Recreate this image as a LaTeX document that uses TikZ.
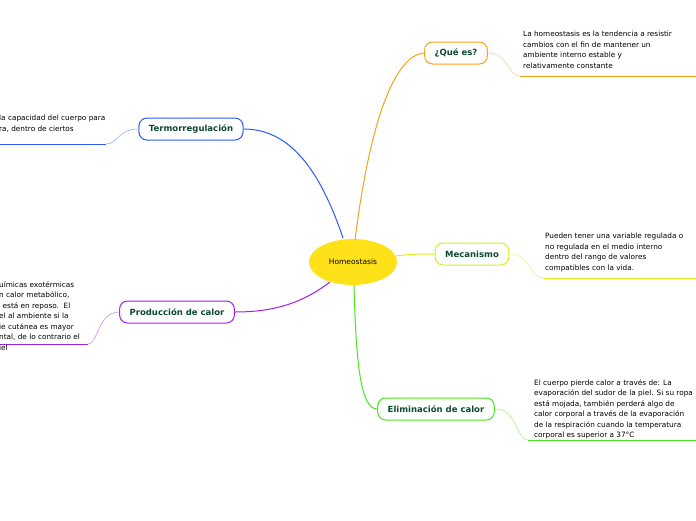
\documentclass[tikz,border=0pt]{standalone}
\usepackage{fontspec}
\setmainfont{DejaVu Sans}
\usetikzlibrary{shapes.geometric}
\definecolor{cor}{HTML}{F7A21B}
\definecolor{cyl}{HTML}{D4EE1E}
\definecolor{cgr}{HTML}{4CE21C}
\definecolor{cbl}{HTML}{2B5BF5}
\definecolor{cpu}{HTML}{A020F0}
\definecolor{ctx}{HTML}{0B4A2E}
\definecolor{cye}{HTML}{FFE11A}
\begin{document}
\begin{tikzpicture}[x=1pt,y=-1pt,
 topic/.style={draw=#1,line width=1pt,rounded corners=8pt,fill=white,minimum height=22pt,text=ctx,font=\fontsize{8.5}{10}\selectfont\bfseries,inner xsep=10pt},
 body/.style={anchor=north west,align=left,inner sep=0pt,font=\fontsize{7.3}{10.5}\selectfont},
 link/.style={draw=#1,line width=1pt},
 thin/.style={draw=#1!50,line width=0.6pt}]
\useasboundingbox (0,0) rectangle (696,520);
\clip (0,0) rectangle (696,520);
\fill[white] (0,0) rectangle (696,520);
% center
\node[ellipse,fill=cye,minimum width=88pt,minimum height=46pt,inner sep=0pt,font=\fontsize{7.5}{9}\selectfont] (h) at (353,262) {Homeostasis};
% topics
\node[topic=cor] (q) at (456,53) {¿Qué es?};
\node[topic=cyl] (m) at (472,254) {Mecanismo};
\node[topic=cgr] (e) at (436,409) {Eliminación de calor};
\node[topic=cbl] (t) at (191,129) {Termorregulación};
\node[topic=cpu] (p) at (177,312) {Producción de calor};
% main links
\begin{scope}[on background layer/.style={}]
\end{scope}
\draw[link=cor] (355,240) .. controls (370,120) and (395,55) .. (q.west);
\draw[link=cyl] (396,256) .. controls (410,254) and (420,254) .. (m.west);
\draw[link=cgr] (354,285) .. controls (356,360) and (360,409) .. (e.west);
\draw[link=cbl] (343,238) .. controls (320,170) and (290,129) .. (t.east);
\draw[link=cpu] (330,282) .. controls (300,305) and (270,312) .. (p.east);
% underlines
\coordinate (qa) at (520,76); \coordinate (qb) at (696,76);
\coordinate (ma) at (543,278); \coordinate (mb) at (696,278);
\coordinate (ea) at (528,440); \coordinate (eb) at (696,440);
\coordinate (ta) at (106,144); \coordinate (tb) at (0,144);
\coordinate (pa) at (88,344); \coordinate (pb) at (0,344);
\draw[link=cor] (qa) -- (qb); \draw[link=cyl] (ma) -- (mb);
\draw[link=cgr] (ea) -- (eb); \draw[link=cbl] (ta) -- (tb);
\draw[link=cpu] (pa) -- (pb);
\draw[thin=cor] (q.east) .. controls (508,53) and (508,76) .. (qa);
\draw[thin=cyl] (m.east) .. controls (530,254) and (530,278) .. (ma);
\draw[thin=cgr] (e.east) .. controls (518,409) and (516,440) .. (ea);
\draw[thin=cbl] (t.west) .. controls (118,129) and (118,144) .. (ta);
\draw[thin=cpu] (p.west) .. controls (98,312) and (98,344) .. (pa);
% texts
\node[body] (qt) at (523,31) {La homeostasis es la tendencia a resistir\\cambios con el fin de mantener un\\ambiente interno estable y\\relativamente constante};
\node[body] (mt) at (545,233) {Pueden tener una variable regulada o\\no regulada en el medio interno\\dentro del rango de valores\\compatibles con la vida.};
\node[body] (et) at (534,379) {El cuerpo pierde calor a través de: La\\evaporación del sudor de la piel. Si su ropa\\está mojada, también perderá algo de\\calor corporal a través de la evaporación\\de la respiración cuando la temperatura\\corporal es superior a 37°C};
\node[body] (tt) at (-1,115) {la capacidad del cuerpo para\\ra, dentro de ciertos};
\node[body] (pt) at (-1,281) {uímicas exotérmicas\\n calor metabólico,\\\ \,está en reposo.\ \ El\\el al ambiente si la\\ie cutánea es mayor\\ntal, de lo contrario el\\iel};
\end{tikzpicture}
\end{document}
